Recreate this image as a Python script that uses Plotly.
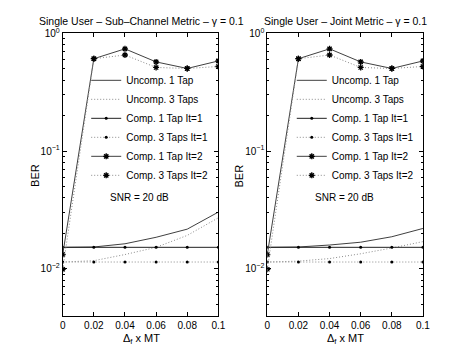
import plotly.graph_objects as go

x_vals = [0, 0.02, 0.04, 0.06, 0.08, 0.1]

# Left panel: Sub-Channel Metric
left_uncomp1 = [0.0152, 0.0153, 0.0163, 0.0185, 0.0217, 0.0303]
left_uncomp3 = [0.0114, 0.0117, 0.0132, 0.0152, 0.0192, 0.0271]
left_comp1_it1 = [0.0152, 0.0152, 0.0152, 0.0152, 0.0152, 0.0152]
left_comp3_it1 = [0.0114, 0.0114, 0.0114, 0.0114, 0.0114, 0.0114]
left_comp1_it2 = [0.0132, 0.61, 0.74, 0.573, 0.504, 0.584]
left_comp3_it2 = [0.0099, 0.61, 0.656, 0.514, 0.504, 0.524]

# Right panel: Joint Metric
right_uncomp1 = [0.0152, 0.0153, 0.0159, 0.0168, 0.0187, 0.022]
right_uncomp3 = [0.0114, 0.0116, 0.0122, 0.0134, 0.015, 0.017]
right_comp1_it1 = [0.0152, 0.0152, 0.0152, 0.0152, 0.0152, 0.0152]
right_comp3_it1 = [0.0114, 0.0114, 0.0114, 0.0114, 0.0114, 0.0114]
right_comp1_it2 = [0.0132, 0.61, 0.74, 0.573, 0.504, 0.584]
right_comp3_it2 = [0.0099, 0.61, 0.656, 0.514, 0.504, 0.524]

names = ["Uncomp. 1 Tap", "Uncomp. 3 Taps", "Comp. 1 Tap It=1",
         "Comp. 3 Taps It=1", "Comp. 1 Tap It=2", "Comp. 3 Taps It=2"]
titles = ["Single User – Sub–Channel Metric – γ = 0.1",
          "Single User – Joint Metric – γ = 0.1"]
x_ticks = [0, 0.02, 0.04, 0.06, 0.08, 0.1]
x_ticktext = ["0", "0.02", "0.04", "0.06", "0.08", "0.1"]
y_major = [0.01, 0.1, 1]
y_major_text = ["10<sup>−2</sup>", "10<sup>−1</sup>", "10<sup>0</sup>"]

W, H = 474, 354
FONT = "Liberation Sans, Arial, sans-serif"
DOT = "1px,2px"

styles = [
    dict(mode="lines", line=dict(color="#404040", width=1, dash="solid")),
    dict(mode="lines", line=dict(color="#8a8a8a", width=1, dash=DOT)),
    dict(mode="lines+markers", line=dict(color="#202020", width=1, dash="solid"),
         marker=dict(symbol="circle", size=3, color="black")),
    dict(mode="lines+markers", line=dict(color="#8a8a8a", width=1, dash=DOT),
         marker=dict(symbol="circle", size=3, color="black")),
    dict(mode="lines+markers", line=dict(color="#404040", width=1, dash="solid"),
         marker=dict(symbol="asterisk-open", size=5, color="black", line=dict(width=1.3, color="black"))),
    dict(mode="lines+markers", line=dict(color="#8a8a8a", width=1, dash=DOT),
         marker=dict(symbol="asterisk-open", size=5, color="black", line=dict(width=1.3, color="black"))),
]

fig = go.Figure()
panels = [
    ([left_uncomp1, left_uncomp3, left_comp1_it1, left_comp3_it1, left_comp1_it2, left_comp3_it2], "x", "y", "legend"),
    ([right_uncomp1, right_uncomp3, right_comp1_it1, right_comp3_it1, right_comp1_it2, right_comp3_it2], "x2", "y2", "legend2"),
]
for series, xa, ya, lg in panels:
    for name, ys, st in zip(names, series, styles):
        fig.add_trace(go.Scatter(x=x_vals, y=ys, name=name, xaxis=xa, yaxis=ya,
                                 legend=lg, showlegend=True, **st))

y_minor = []
for dec in [0.001, 0.01, 0.1]:
    for k in range(2, 10):
        v = dec * k
        if 0.0039 < v < 1:
            y_minor.append(v)

x0L, x1L = 61, 220
x0R, x1R = 270, 429
yT, yB = 27, 315

axis_common = dict(showline=True, linecolor="black", linewidth=1, mirror="allticks",
                   ticks="inside", ticklen=4, tickcolor="black", showgrid=False,
                   zeroline=False, tickfont=dict(family=FONT, size=10, color="black"))

fig.update_layout(
    width=W, height=H, margin=dict(l=0, r=0, t=0, b=0),
    paper_bgcolor="white", plot_bgcolor="white",
    font=dict(family=FONT, size=10, color="black"),
    xaxis=dict(domain=[x0L / W, x1L / W], range=[0, 0.1], tickvals=x_ticks,
               ticktext=x_ticktext, anchor="y", **axis_common),
    yaxis=dict(domain=[1 - yB / H, 1 - yT / H], type="log", range=[-2.4, 0],
               tickvals=y_major, ticktext=y_major_text, anchor="x",
               minor=dict(tickvals=y_minor, ticks="inside", ticklen=2, tickcolor="black"),
               **axis_common),
    xaxis2=dict(domain=[x0R / W, x1R / W], range=[0, 0.1], tickvals=x_ticks,
                ticktext=x_ticktext, anchor="y2", **axis_common),
    yaxis2=dict(domain=[1 - yB / H, 1 - yT / H], type="log", range=[-2.4, 0],
                tickvals=y_major, ticktext=y_major_text, anchor="x2",
                minor=dict(tickvals=y_minor, ticks="inside", ticklen=2, tickcolor="black"),
                **axis_common),
    legend=dict(x=85 / W, y=1 - 60 / H, xanchor="left", yanchor="top",
                bgcolor="rgba(0,0,0,0)", borderwidth=0, tracegroupgap=0,
                font=dict(family=FONT, size=10, color="black"), itemwidth=30),
    legend2=dict(x=295 / W, y=1 - 60 / H, xanchor="left", yanchor="top",
                 bgcolor="rgba(0,0,0,0)", borderwidth=0, tracegroupgap=0,
                 font=dict(family=FONT, size=10, color="black"), itemwidth=30),
)

def ann(text, px, py, size=10, angle=0, xa="center"):
    return dict(text=text, x=px / W, y=1 - py / H, xref="paper", yref="paper",
                xanchor=xa, yanchor="middle", showarrow=False, textangle=angle,
                font=dict(family=FONT, size=size, color="black"))

annotations = [
    ann(titles[0], 141, 14, 10.5),
    ann(titles[1], 350, 14, 10.5),
    ann("BER", 32, 172, 11, -90),
    ann("BER", 241, 172, 11, -90),
    ann("Δ<sub>f</sub> x MT", 141, 339, 11),
    ann("Δ<sub>f</sub> x MT", 350, 339, 11),
    ann("SNR = 20 dB", 107, 194, 10, 0, "left"),
    ann("SNR = 20 dB", 317, 194, 10, 0, "left"),
]
fig.update_layout(annotations=annotations)

fig.write_html("out.html")
